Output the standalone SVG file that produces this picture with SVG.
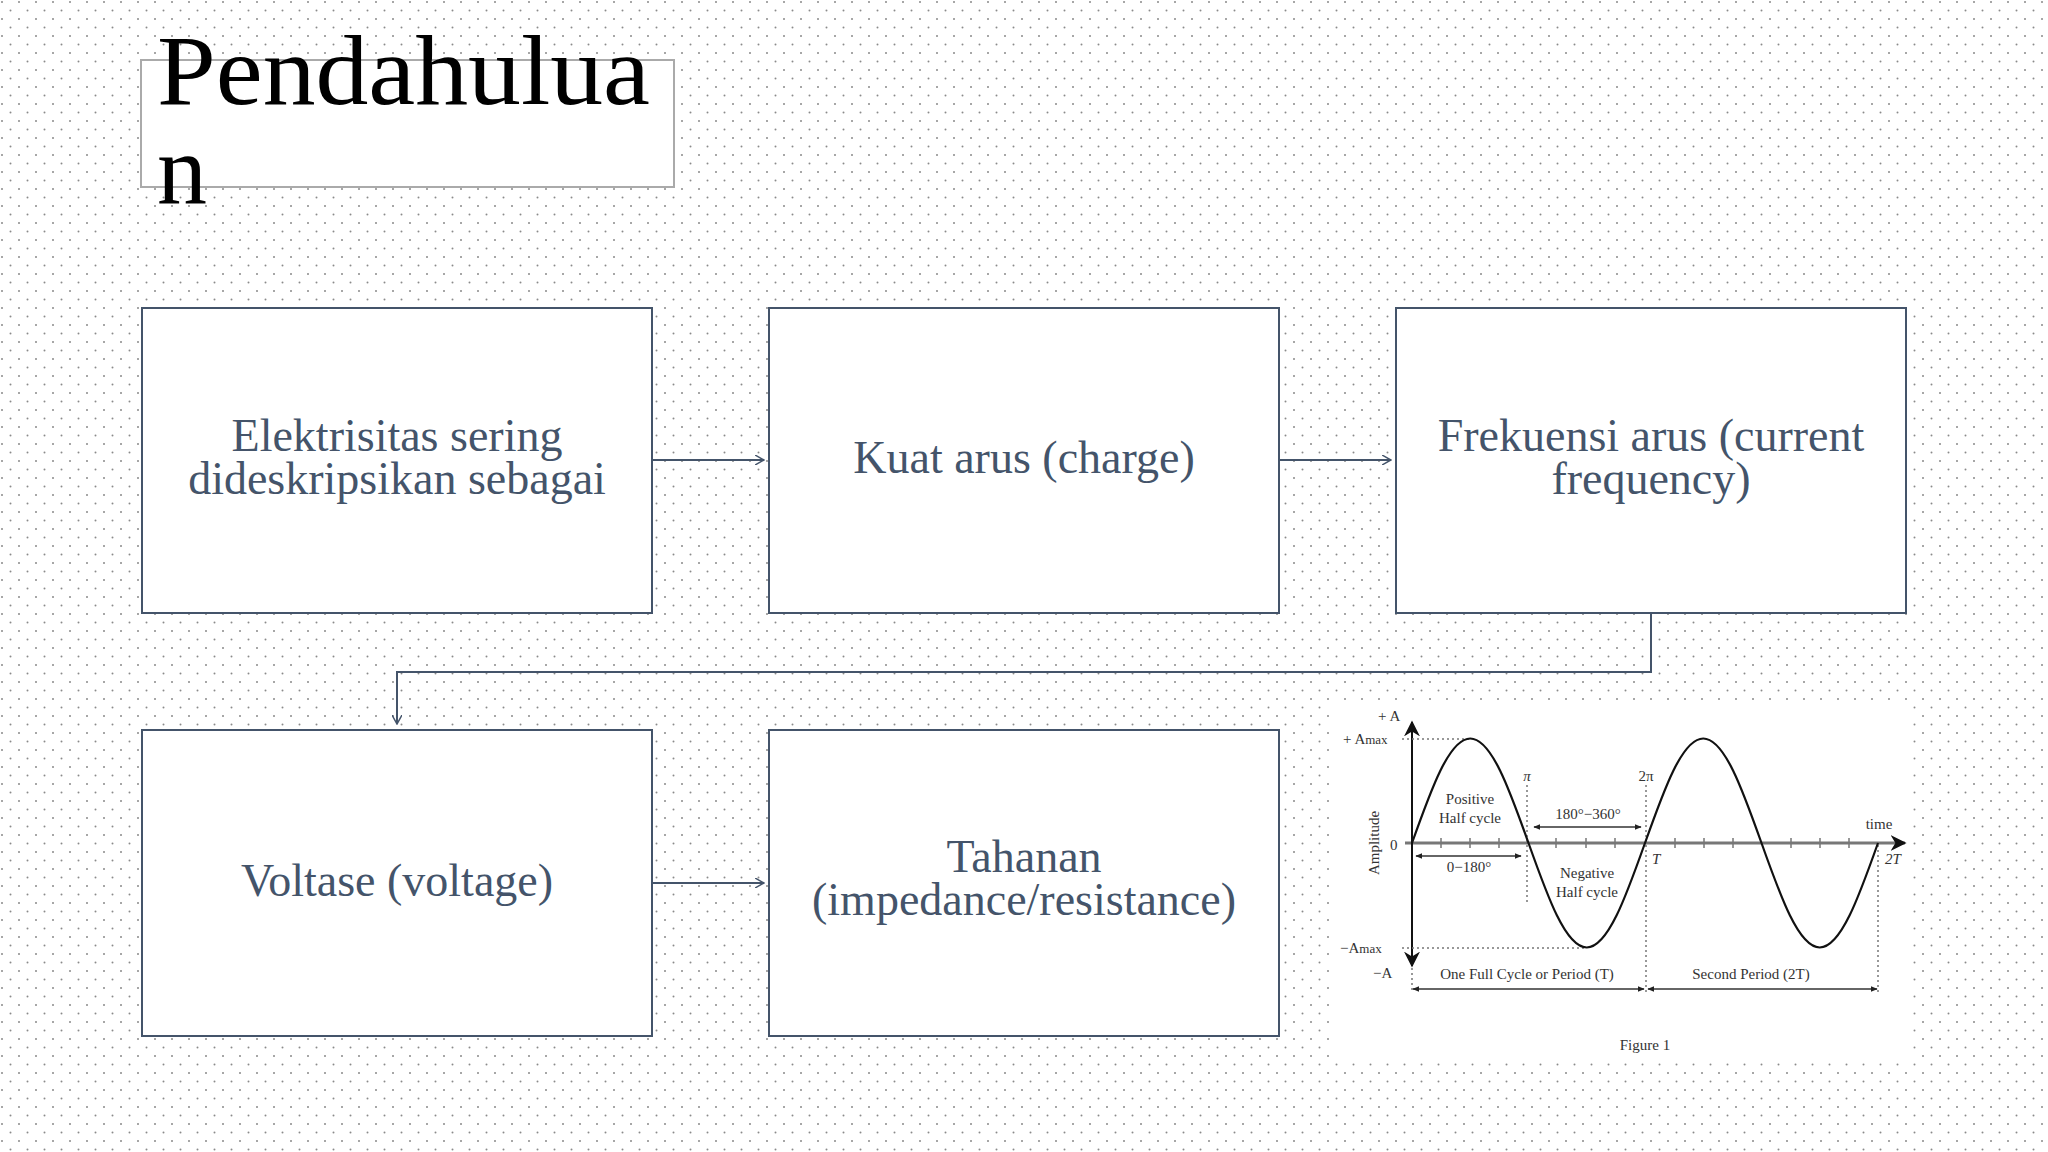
<svg xmlns="http://www.w3.org/2000/svg" width="2048" height="1152" viewBox="0 0 2048 1152">
<defs>
<pattern id="dots" width="17" height="17" patternUnits="userSpaceOnUse">
<circle cx="2" cy="2" r="1" fill="#8a8a8a"/><circle cx="10.5" cy="10.5" r="1" fill="#8a8a8a"/>
</pattern>
<marker id="arr" viewBox="0 0 10 10" refX="9" refY="5" markerWidth="10" markerHeight="10" markerUnits="userSpaceOnUse" orient="auto"><path d="M0,0 L9,5 L0,10" fill="none" stroke="#44546a" stroke-width="1.5"/></marker>
<marker id="fa" viewBox="0 0 10 10" refX="9" refY="5" markerWidth="7" markerHeight="7" markerUnits="userSpaceOnUse" orient="auto-start-reverse"><path d="M0,1 L10,5 L0,9z" fill="#222"/></marker>
<marker id="big" viewBox="0 0 10 10" refX="9" refY="5" markerWidth="16" markerHeight="16" markerUnits="userSpaceOnUse" orient="auto"><path d="M0,0 L10,5 L0,10 L3,5z" fill="#111"/></marker>
</defs>
<style>
.box{fill:#fff;stroke:#44546a;stroke-width:2}
.t{font-family:"Liberation Serif",serif;font-size:46px;fill:#44546a;text-anchor:middle}
.c{fill:none;stroke:#44546a;stroke-width:2}
.f{font-family:"Liberation Serif",serif;font-size:15px;fill:#333}
.m{text-anchor:middle}
.d{fill:none;stroke:#777;stroke-width:1.5;stroke-dasharray:2 3}
.a{fill:none;stroke:#333;stroke-width:1.3}
</style>
<rect width="2048" height="1152" fill="#fff"/>
<rect width="2048" height="1152" fill="url(#dots)"/>
<g id="title">
<rect x="141" y="60" width="533" height="127" fill="#fff" stroke="#aaa" stroke-width="2"/>
<text x="157" y="104" font-family="Liberation Serif,serif" font-size="100" fill="#000" textLength="493" lengthAdjust="spacingAndGlyphs">Pendahulua</text>
<text x="157" y="203" font-family="Liberation Serif,serif" font-size="100" fill="#000">n</text>
</g>
<g id="n1"><rect class="box" x="142" y="308" width="510" height="305"/><text class="t" x="397" y="451">Elektrisitas sering</text><text class="t" x="397" y="494">dideskripsikan sebagai</text></g>
<g id="n2"><rect class="box" x="769" y="308" width="510" height="305"/><text class="t" x="1024" y="473">Kuat arus (charge)</text></g>
<g id="n3"><rect class="box" x="1396" y="308" width="510" height="305"/><text class="t" x="1651" y="451">Frekuensi arus (current</text><text class="t" x="1651" y="494">frequency)</text></g>
<g id="n4"><rect class="box" x="142" y="730" width="510" height="306"/><text class="t" x="397" y="896">Voltase (voltage)</text></g>
<g id="n5"><rect class="box" x="769" y="730" width="510" height="306"/><text class="t" x="1024" y="872">Tahanan</text><text class="t" x="1024" y="915">(impedance/resistance)</text></g>
<g id="connectors">
<path class="c" d="M652,460 H764" marker-end="url(#arr)"/>
<path class="c" d="M1279,460 H1391" marker-end="url(#arr)"/>
<path class="c" d="M1651,613 V672 H397 V724" marker-end="url(#arr)"/>
<path class="c" d="M652,883 H764" marker-end="url(#arr)"/>
</g>
<g id="figure">
<rect x="1335" y="703" width="572" height="354" fill="#fff"/>
<line x1="1405" y1="843" x2="1905" y2="843" stroke="#777" stroke-width="3" marker-end="url(#big)"/>
<path stroke="#777" stroke-width="1.5" d="M1441,838v10M1470,838v10M1499,838v10M1556,838v10M1586,838v10M1615,838v10M1675,838v10M1704,838v10M1733,838v10M1791,838v10M1820,838v10M1849,838v10"/>
<line x1="1412" y1="950" x2="1412" y2="722" stroke="#111" stroke-width="2" marker-end="url(#big)"/>
<line x1="1412" y1="740" x2="1412" y2="966" stroke="#111" stroke-width="2" marker-end="url(#big)"/>
<path class="d" d="M1402,739H1470M1402,948H1587M1527,785V903M1646,785V992M1878,845V992M1412,968V992"/>
<path fill="none" stroke="#111" stroke-width="2.2" d="M1412,843 c19,-53.5 37.17,-104.5 58.25,-104.5 c21.08,0 39.25,51 58.25,104.5 c19,53.5 37.17,104.5 58.25,104.5 c21.08,0 39.25,-51 58.25,-104.5 c19,-53.5 37.17,-104.5 58.25,-104.5 c21.08,0 39.25,51 58.25,104.5 c19,53.5 37.17,104.5 58.25,104.5 c21.08,0 39.25,-51 58.25,-104.5"/>
<path class="a" d="M1416,856H1521" marker-start="url(#fa)" marker-end="url(#fa)"/>
<path class="a" d="M1534,827H1641" marker-start="url(#fa)" marker-end="url(#fa)"/>
<path class="a" d="M1413,989H1644" marker-start="url(#fa)" marker-end="url(#fa)"/>
<path class="a" d="M1648,989H1877" marker-start="url(#fa)" marker-end="url(#fa)"/>
<text class="f" x="1378" y="721" font-size="17">+ A</text>
<text class="f" x="1343" y="744" font-size="17">+ A<tspan font-size="13">max</tspan></text>
<text class="f" x="1390" y="850" font-size="16">0</text>
<text class="f m" transform="translate(1379,843) rotate(-90)" font-size="16">Amplitude</text>
<text class="f" x="1340" y="953" font-size="17">−A<tspan font-size="13">max</tspan></text>
<text class="f" x="1373" y="978" font-size="17">−A</text>
<text class="f m" x="1527" y="781" font-style="italic">π</text>
<text class="f m" x="1470" y="804">Positive</text>
<text class="f m" x="1470" y="823">Half cycle</text>
<text class="f m" x="1469" y="872">0−180°</text>
<text class="f m" x="1588" y="819">180°−360°</text>
<text class="f m" x="1587" y="878">Negative</text>
<text class="f m" x="1587" y="897">Half cycle</text>
<text class="f m" x="1646" y="781">2π</text>
<text class="f" x="1652" y="864" font-style="italic">T</text>
<text class="f m" x="1879" y="829">time</text>
<text class="f" x="1885" y="864" font-style="italic">2T</text>
<text class="f m" x="1527" y="979">One Full Cycle or Period (T)</text>
<text class="f m" x="1751" y="979">Second Period (2T)</text>
<text class="f m" x="1645" y="1050" font-size="17">Figure 1</text>
</g>
</svg>
